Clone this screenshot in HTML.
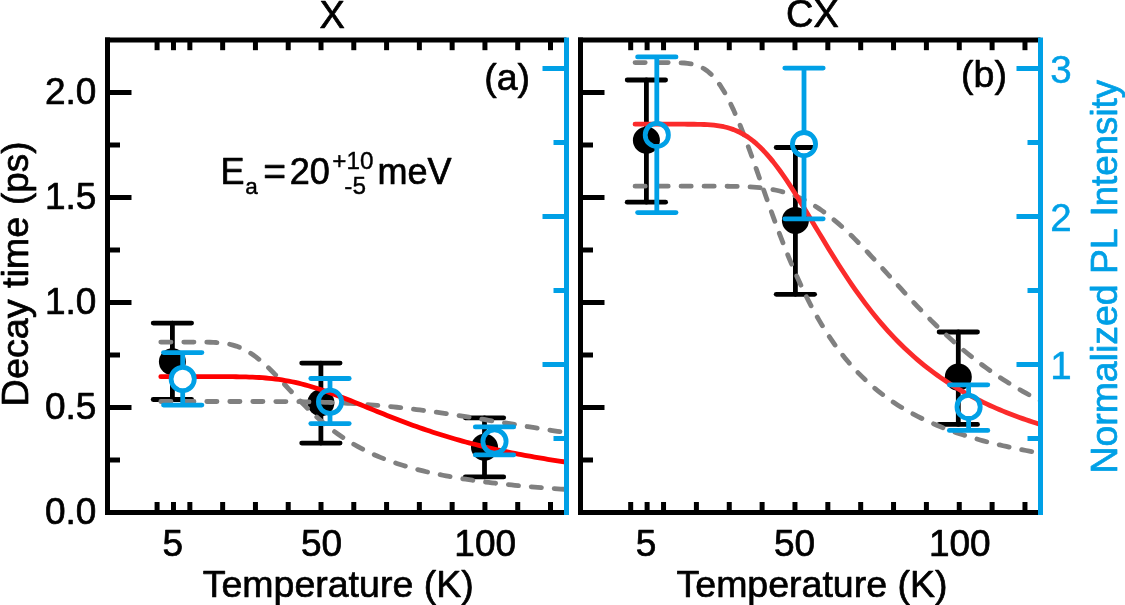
<!DOCTYPE html>
<html lang="en">
<head>
<meta charset="utf-8">
<title>Decay time and normalized PL intensity versus temperature</title>
<style>
html,body{margin:0;padding:0;background:#fff;}
body{width:1125px;height:605px;overflow:hidden;}
svg{display:block;}
</style>
</head>
<body>
<svg width="1125" height="605" viewBox="0 0 1125 605">
<rect x="0" y="0" width="1125" height="605" fill="#ffffff"/>
<defs>
<clipPath id="clipa"><rect x="107.5" y="40" width="456.5" height="472.5"/></clipPath>
<clipPath id="clipb"><rect x="580.5" y="40" width="457.5" height="472.5"/></clipPath>
</defs>
<g clip-path="url(#clipa)">
<g stroke="#000" stroke-width="4.8" stroke-linecap="round" fill="none">
<line x1="172.4" y1="323.1" x2="172.4" y2="399.5"/>
<line x1="153.2" y1="323.1" x2="191.6" y2="323.1"/>
<line x1="153.2" y1="399.5" x2="191.6" y2="399.5"/>
</g>
<circle cx="172.4" cy="361.8" r="13.5" fill="#000"/>
<g stroke="#000" stroke-width="4.8" stroke-linecap="round" fill="none">
<line x1="320.9" y1="363.1" x2="320.9" y2="443.1"/>
<line x1="301.7" y1="363.1" x2="340.1" y2="363.1"/>
<line x1="301.7" y1="443.1" x2="340.1" y2="443.1"/>
</g>
<circle cx="320.9" cy="402.7" r="13.5" fill="#000"/>
<g stroke="#000" stroke-width="4.8" stroke-linecap="round" fill="none">
<line x1="484.5" y1="417.8" x2="484.5" y2="476.9"/>
<line x1="465.3" y1="417.8" x2="503.7" y2="417.8"/>
<line x1="465.3" y1="476.9" x2="503.7" y2="476.9"/>
</g>
<circle cx="484.5" cy="447.3" r="13.5" fill="#000"/>
<path d="M160.78 342.11 L164.06 342.11 L167.33 342.11 L170.61 342.11 L173.89 342.11 L177.17 342.11 L180.45 342.11 L183.73 342.11 L187.01 342.11 L190.28 342.11 L193.56 342.11 L196.84 342.11 L200.12 342.12 L203.4 342.14 L206.68 342.17 L209.96 342.24 L213.23 342.35 L216.51 342.52 L219.79 342.78 L223.07 343.14 L226.35 343.63 L229.63 344.27 L232.91 345.09 L236.18 346.1 L239.46 347.33 L242.74 348.77 L246.02 350.45 L249.3 352.36 L252.58 354.51 L255.86 356.88 L259.13 359.46 L262.41 362.23 L265.69 365.18 L268.97 368.29 L272.25 371.52 L275.53 374.86 L278.81 378.28 L282.08 381.75 L285.36 385.26 L288.64 388.77 L291.92 392.28 L295.2 395.76 L298.48 399.19 L301.76 402.57 L305.03 405.88 L308.31 409.12 L311.59 412.27 L314.87 415.33 L318.15 418.29 L321.43 421.16 L324.71 423.93 L327.98 426.6 L331.26 429.17 L334.54 431.65 L337.82 434.02 L341.1 436.31 L344.38 438.5 L347.66 440.6 L350.93 442.62 L354.21 444.55 L357.49 446.4 L360.77 448.17 L364.05 449.87 L367.33 451.5 L370.61 453.06 L373.88 454.55 L377.16 455.99 L380.44 457.36 L383.72 458.68 L387 459.94 L390.28 461.15 L393.56 462.32 L396.83 463.43 L400.11 464.51 L403.39 465.54 L406.67 466.53 L409.95 467.48 L413.23 468.39 L416.51 469.27 L419.78 470.12 L423.06 470.93 L426.34 471.72 L429.62 472.47 L432.9 473.2 L436.18 473.91 L439.46 474.58 L442.73 475.24 L446.01 475.87 L449.29 476.48 L452.57 477.07 L455.85 477.64 L459.13 478.19 L462.41 478.72 L465.68 479.23 L468.96 479.73 L472.24 480.21 L475.52 480.68 L478.8 481.13 L482.08 481.57 L485.36 482 L488.63 482.41 L491.91 482.81 L495.19 483.2 L498.47 483.57 L501.75 483.94 L505.03 484.3 L508.31 484.64 L511.58 484.98 L514.86 485.3 L518.14 485.62 L521.42 485.93 L524.7 486.23 L527.98 486.52 L531.26 486.81 L534.53 487.08 L537.81 487.35 L541.09 487.62 L544.37 487.87 L547.65 488.12 L550.93 488.37 L554.21 488.6 L557.48 488.84 L560.76 489.06 L564.04 489.28 L567.32 489.5" fill="none" stroke="#808080" stroke-width="4.8" stroke-linecap="round" stroke-linejoin="round" stroke-dasharray="10.2 12.8"/>
<path d="M160.78 401.49 L164.06 401.49 L167.33 401.49 L170.61 401.49 L173.89 401.49 L177.17 401.49 L180.45 401.49 L183.73 401.49 L187.01 401.49 L190.28 401.49 L193.56 401.49 L196.84 401.49 L200.12 401.49 L203.4 401.49 L206.68 401.49 L209.96 401.49 L213.23 401.49 L216.51 401.49 L219.79 401.49 L223.07 401.49 L226.35 401.49 L229.63 401.49 L232.91 401.49 L236.18 401.49 L239.46 401.49 L242.74 401.5 L246.02 401.5 L249.3 401.5 L252.58 401.5 L255.86 401.5 L259.13 401.5 L262.41 401.51 L265.69 401.51 L268.97 401.52 L272.25 401.53 L275.53 401.54 L278.81 401.56 L282.08 401.57 L285.36 401.59 L288.64 401.62 L291.92 401.65 L295.2 401.68 L298.48 401.72 L301.76 401.76 L305.03 401.81 L308.31 401.87 L311.59 401.94 L314.87 402.01 L318.15 402.09 L321.43 402.18 L324.71 402.28 L327.98 402.39 L331.26 402.5 L334.54 402.63 L337.82 402.77 L341.1 402.92 L344.38 403.08 L347.66 403.25 L350.93 403.44 L354.21 403.63 L357.49 403.84 L360.77 404.06 L364.05 404.29 L367.33 404.53 L370.61 404.78 L373.88 405.05 L377.16 405.33 L380.44 405.62 L383.72 405.92 L387 406.24 L390.28 406.56 L393.56 406.9 L396.83 407.25 L400.11 407.61 L403.39 407.98 L406.67 408.36 L409.95 408.75 L413.23 409.15 L416.51 409.56 L419.78 409.98 L423.06 410.41 L426.34 410.84 L429.62 411.29 L432.9 411.74 L436.18 412.2 L439.46 412.67 L442.73 413.14 L446.01 413.62 L449.29 414.11 L452.57 414.6 L455.85 415.09 L459.13 415.6 L462.41 416.1 L465.68 416.61 L468.96 417.12 L472.24 417.64 L475.52 418.16 L478.8 418.68 L482.08 419.21 L485.36 419.73 L488.63 420.26 L491.91 420.79 L495.19 421.32 L498.47 421.86 L501.75 422.39 L505.03 422.92 L508.31 423.45 L511.58 423.99 L514.86 424.52 L518.14 425.05 L521.42 425.58 L524.7 426.11 L527.98 426.64 L531.26 427.17 L534.53 427.69 L537.81 428.22 L541.09 428.74 L544.37 429.26 L547.65 429.77 L550.93 430.29 L554.21 430.8 L557.48 431.31 L560.76 431.82 L564.04 432.32 L567.32 432.82" fill="none" stroke="#808080" stroke-width="4.8" stroke-linecap="round" stroke-linejoin="round" stroke-dasharray="10.2 12.8"/>
<path d="M160.78 376.63 L164.06 376.63 L167.33 376.63 L170.61 376.63 L173.89 376.63 L177.17 376.63 L180.45 376.63 L183.73 376.63 L187.01 376.63 L190.28 376.63 L193.56 376.63 L196.84 376.63 L200.12 376.63 L203.4 376.63 L206.68 376.63 L209.96 376.63 L213.23 376.63 L216.51 376.63 L219.79 376.64 L223.07 376.65 L226.35 376.66 L229.63 376.67 L232.91 376.7 L236.18 376.73 L239.46 376.78 L242.74 376.84 L246.02 376.92 L249.3 377.03 L252.58 377.16 L255.86 377.31 L259.13 377.5 L262.41 377.73 L265.69 377.99 L268.97 378.29 L272.25 378.64 L275.53 379.03 L278.81 379.48 L282.08 379.97 L285.36 380.51 L288.64 381.1 L291.92 381.75 L295.2 382.44 L298.48 383.19 L301.76 384 L305.03 384.85 L308.31 385.74 L311.59 386.69 L314.87 387.68 L318.15 388.71 L321.43 389.79 L324.71 390.9 L327.98 392.04 L331.26 393.22 L334.54 394.43 L337.82 395.66 L341.1 396.91 L344.38 398.19 L347.66 399.48 L350.93 400.79 L354.21 402.11 L357.49 403.43 L360.77 404.77 L364.05 406.11 L367.33 407.45 L370.61 408.78 L373.88 410.12 L377.16 411.45 L380.44 412.78 L383.72 414.1 L387 415.4 L390.28 416.7 L393.56 417.99 L396.83 419.26 L400.11 420.52 L403.39 421.76 L406.67 422.99 L409.95 424.2 L413.23 425.39 L416.51 426.57 L419.78 427.73 L423.06 428.87 L426.34 429.99 L429.62 431.09 L432.9 432.17 L436.18 433.24 L439.46 434.28 L442.73 435.31 L446.01 436.32 L449.29 437.3 L452.57 438.27 L455.85 439.22 L459.13 440.15 L462.41 441.07 L465.68 441.96 L468.96 442.84 L472.24 443.7 L475.52 444.54 L478.8 445.37 L482.08 446.18 L485.36 446.97 L488.63 447.74 L491.91 448.5 L495.19 449.25 L498.47 449.97 L501.75 450.69 L505.03 451.39 L508.31 452.07 L511.58 452.74 L514.86 453.4 L518.14 454.04 L521.42 454.67 L524.7 455.29 L527.98 455.89 L531.26 456.48 L534.53 457.06 L537.81 457.63 L541.09 458.18 L544.37 458.73 L547.65 459.26 L550.93 459.79 L554.21 460.3 L557.48 460.8 L560.76 461.29 L564.04 461.78 L567.32 462.25" fill="none" stroke="#ff0000" stroke-width="4.8" stroke-linecap="round" stroke-linejoin="round"/>
<g stroke="#00a0e6" stroke-width="4.8" fill="none">
<line x1="182.7" y1="352.6" x2="182.7" y2="367.4"/>
<line x1="182.7" y1="390.6" x2="182.7" y2="405.1"/>
<line stroke-linecap="round" x1="163.5" y1="352.6" x2="201.9" y2="352.6"/>
<line stroke-linecap="round" x1="163.5" y1="405.1" x2="201.9" y2="405.1"/>
<circle cx="182.7" cy="379" r="11.6" fill="#fff"/>
</g>
<g stroke="#00a0e6" stroke-width="4.8" fill="none">
<line x1="330" y1="378.5" x2="330" y2="390.2"/>
<line x1="330" y1="413.4" x2="330" y2="423.6"/>
<line stroke-linecap="round" x1="310.8" y1="378.5" x2="349.2" y2="378.5"/>
<line stroke-linecap="round" x1="310.8" y1="423.6" x2="349.2" y2="423.6"/>
<circle cx="330" cy="401.8" r="11.6" fill="none"/>
</g>
<g stroke="#00a0e6" stroke-width="4.8" fill="none">
<line x1="494.5" y1="426.9" x2="494.5" y2="429.9"/>
<line x1="494.5" y1="453.1" x2="494.5" y2="454.9"/>
<line stroke-linecap="round" x1="475.3" y1="426.9" x2="513.7" y2="426.9"/>
<line stroke-linecap="round" x1="475.3" y1="454.9" x2="513.7" y2="454.9"/>
<circle cx="494.5" cy="441.5" r="11.6" fill="none"/>
</g>
</g>
<g clip-path="url(#clipb)">
<g stroke="#000" stroke-width="4.8" stroke-linecap="round" fill="none">
<line x1="646.4" y1="80" x2="646.4" y2="202.2"/>
<line x1="627.2" y1="80" x2="665.6" y2="80"/>
<line x1="627.2" y1="202.2" x2="665.6" y2="202.2"/>
</g>
<circle cx="646.4" cy="140.3" r="13.5" fill="#000"/>
<g stroke="#000" stroke-width="4.8" stroke-linecap="round" fill="none">
<line x1="795.4" y1="147.5" x2="795.4" y2="294.3"/>
<line x1="776.2" y1="147.5" x2="814.6" y2="147.5"/>
<line x1="776.2" y1="294.3" x2="814.6" y2="294.3"/>
</g>
<circle cx="795.4" cy="220.4" r="13.5" fill="#000"/>
<g stroke="#000" stroke-width="4.8" stroke-linecap="round" fill="none">
<line x1="958.3" y1="332" x2="958.3" y2="424.4"/>
<line x1="939.1" y1="332" x2="977.5" y2="332"/>
<line x1="939.1" y1="424.4" x2="977.5" y2="424.4"/>
</g>
<circle cx="958.3" cy="377.1" r="13.5" fill="#000"/>
<path d="M635.04 62.6 L638.33 62.6 L641.61 62.6 L644.9 62.6 L648.19 62.6 L651.47 62.6 L654.76 62.6 L658.04 62.6 L661.33 62.6 L664.61 62.6 L667.9 62.6 L671.19 62.61 L674.47 62.64 L677.76 62.7 L681.04 62.81 L684.33 63.01 L687.61 63.33 L690.9 63.83 L694.19 64.56 L697.47 65.58 L700.76 66.96 L704.04 68.75 L707.33 71.01 L710.61 73.81 L713.9 77.17 L717.19 81.13 L720.47 85.71 L723.76 90.91 L727.04 96.73 L730.33 103.15 L733.61 110.12 L736.9 117.6 L740.19 125.54 L743.47 133.88 L746.76 142.56 L750.04 151.5 L753.33 160.64 L756.61 169.92 L759.9 179.27 L763.19 188.64 L766.47 197.97 L769.76 207.22 L773.04 216.34 L776.33 225.31 L779.61 234.09 L782.9 242.65 L786.19 250.99 L789.47 259.08 L792.76 266.92 L796.04 274.49 L799.33 281.8 L802.61 288.85 L805.9 295.63 L809.19 302.14 L812.47 308.4 L815.76 314.41 L819.04 320.17 L822.33 325.7 L825.61 330.99 L828.9 336.06 L832.19 340.92 L835.47 345.58 L838.76 350.03 L842.04 354.3 L845.33 358.39 L848.61 362.31 L851.9 366.07 L855.19 369.66 L858.47 373.11 L861.76 376.42 L865.04 379.59 L868.33 382.63 L871.61 385.55 L874.9 388.35 L878.19 391.04 L881.47 393.63 L884.76 396.11 L888.04 398.5 L891.33 400.8 L894.61 403.01 L897.9 405.14 L901.19 407.18 L904.47 409.16 L907.76 411.06 L911.04 412.89 L914.33 414.66 L917.61 416.36 L920.9 418.01 L924.19 419.6 L927.47 421.13 L930.76 422.61 L934.04 424.05 L937.33 425.43 L940.61 426.77 L943.9 428.07 L947.19 429.32 L950.47 430.54 L953.76 431.72 L957.04 432.86 L960.33 433.96 L963.61 435.04 L966.9 436.08 L970.19 437.09 L973.47 438.07 L976.76 439.02 L980.04 439.94 L983.33 440.84 L986.61 441.71 L989.9 442.56 L993.19 443.38 L996.47 444.18 L999.76 444.96 L1003.04 445.72 L1006.33 446.46 L1009.61 447.18 L1012.9 447.88 L1016.19 448.57 L1019.47 449.23 L1022.76 449.88 L1026.04 450.51 L1029.33 451.13 L1032.61 451.73 L1035.9 452.32 L1039.19 452.89 L1042.47 453.45" fill="none" stroke="#808080" stroke-width="4.8" stroke-linecap="round" stroke-linejoin="round" stroke-dasharray="10.2 12.8"/>
<path d="M635.04 186.16 L638.33 186.16 L641.61 186.16 L644.9 186.16 L648.19 186.16 L651.47 186.16 L654.76 186.16 L658.04 186.16 L661.33 186.16 L664.61 186.16 L667.9 186.16 L671.19 186.16 L674.47 186.16 L677.76 186.16 L681.04 186.16 L684.33 186.16 L687.61 186.16 L690.9 186.16 L694.19 186.16 L697.47 186.16 L700.76 186.16 L704.04 186.16 L707.33 186.16 L710.61 186.17 L713.9 186.17 L717.19 186.18 L720.47 186.19 L723.76 186.21 L727.04 186.24 L730.33 186.28 L733.61 186.33 L736.9 186.39 L740.19 186.48 L743.47 186.59 L746.76 186.74 L750.04 186.91 L753.33 187.13 L756.61 187.39 L759.9 187.7 L763.19 188.07 L766.47 188.5 L769.76 189.01 L773.04 189.59 L776.33 190.25 L779.61 191.01 L782.9 191.85 L786.19 192.8 L789.47 193.85 L792.76 195.01 L796.04 196.29 L799.33 197.68 L802.61 199.2 L805.9 200.83 L809.19 202.59 L812.47 204.48 L815.76 206.48 L819.04 208.62 L822.33 210.87 L825.61 213.24 L828.9 215.74 L832.19 218.34 L835.47 221.05 L838.76 223.87 L842.04 226.79 L845.33 229.8 L848.61 232.9 L851.9 236.09 L855.19 239.34 L858.47 242.67 L861.76 246.05 L865.04 249.49 L868.33 252.98 L871.61 256.51 L874.9 260.07 L878.19 263.66 L881.47 267.26 L884.76 270.88 L888.04 274.51 L891.33 278.14 L894.61 281.76 L897.9 285.38 L901.19 288.98 L904.47 292.56 L907.76 296.12 L911.04 299.65 L914.33 303.15 L917.61 306.62 L920.9 310.04 L924.19 313.43 L927.47 316.77 L930.76 320.07 L934.04 323.32 L937.33 326.52 L940.61 329.68 L943.9 332.78 L947.19 335.82 L950.47 338.82 L953.76 341.76 L957.04 344.65 L960.33 347.48 L963.61 350.26 L966.9 352.98 L970.19 355.65 L973.47 358.26 L976.76 360.82 L980.04 363.33 L983.33 365.78 L986.61 368.18 L989.9 370.53 L993.19 372.83 L996.47 375.08 L999.76 377.28 L1003.04 379.43 L1006.33 381.53 L1009.61 383.58 L1012.9 385.59 L1016.19 387.55 L1019.47 389.47 L1022.76 391.35 L1026.04 393.18 L1029.33 394.97 L1032.61 396.72 L1035.9 398.43 L1039.19 400.1 L1042.47 401.73" fill="none" stroke="#808080" stroke-width="4.8" stroke-linecap="round" stroke-linejoin="round" stroke-dasharray="10.2 12.8"/>
<path d="M635.04 124.21 L638.33 124.21 L641.61 124.21 L644.9 124.21 L648.19 124.21 L651.47 124.21 L654.76 124.21 L658.04 124.21 L661.33 124.21 L664.61 124.21 L667.9 124.21 L671.19 124.21 L674.47 124.21 L677.76 124.21 L681.04 124.21 L684.33 124.22 L687.61 124.23 L690.9 124.24 L694.19 124.27 L697.47 124.32 L700.76 124.39 L704.04 124.5 L707.33 124.67 L710.61 124.89 L713.9 125.19 L717.19 125.59 L720.47 126.09 L723.76 126.73 L727.04 127.52 L730.33 128.48 L733.61 129.62 L736.9 130.97 L740.19 132.53 L743.47 134.31 L746.76 136.34 L750.04 138.62 L753.33 141.15 L756.61 143.94 L759.9 146.98 L763.19 150.28 L766.47 153.82 L769.76 157.61 L773.04 161.63 L776.33 165.86 L779.61 170.29 L782.9 174.91 L786.19 179.71 L789.47 184.65 L792.76 189.73 L796.04 194.91 L799.33 200.2 L802.61 205.56 L805.9 210.98 L809.19 216.44 L812.47 221.92 L815.76 227.41 L819.04 232.89 L822.33 238.35 L825.61 243.77 L828.9 249.15 L832.19 254.47 L835.47 259.73 L838.76 264.92 L842.04 270.02 L845.33 275.04 L848.61 279.97 L851.9 284.8 L855.19 289.53 L858.47 294.16 L861.76 298.68 L865.04 303.1 L868.33 307.41 L871.61 311.62 L874.9 315.72 L878.19 319.71 L881.47 323.6 L884.76 327.38 L888.04 331.06 L891.33 334.64 L894.61 338.12 L897.9 341.5 L901.19 344.79 L904.47 347.98 L907.76 351.09 L911.04 354.1 L914.33 357.03 L917.61 359.87 L920.9 362.63 L924.19 365.31 L927.47 367.91 L930.76 370.44 L934.04 372.89 L937.33 375.28 L940.61 377.59 L943.9 379.84 L947.19 382.03 L950.47 384.15 L953.76 386.21 L957.04 388.22 L960.33 390.17 L963.61 392.06 L966.9 393.9 L970.19 395.69 L973.47 397.43 L976.76 399.13 L980.04 400.77 L983.33 402.38 L986.61 403.94 L989.9 405.45 L993.19 406.93 L996.47 408.37 L999.76 409.77 L1003.04 411.13 L1006.33 412.46 L1009.61 413.76 L1012.9 415.02 L1016.19 416.25 L1019.47 417.45 L1022.76 418.62 L1026.04 419.76 L1029.33 420.87 L1032.61 421.96 L1035.9 423.02 L1039.19 424.05 L1042.47 425.06" fill="none" stroke="#fb2b2b" stroke-width="4.8" stroke-linecap="round" stroke-linejoin="round"/>
<g stroke="#00a0e6" stroke-width="4.8" fill="none">
<line x1="656.8" y1="56.9" x2="656.8" y2="123.3"/>
<line x1="656.8" y1="146.5" x2="656.8" y2="212.6"/>
<line stroke-linecap="round" x1="637.6" y1="56.9" x2="676" y2="56.9"/>
<line stroke-linecap="round" x1="637.6" y1="212.6" x2="676" y2="212.6"/>
<circle cx="656.8" cy="134.9" r="11.6" fill="none"/>
</g>
<g stroke="#00a0e6" stroke-width="4.8" fill="none">
<line x1="804" y1="68.1" x2="804" y2="132.5"/>
<line x1="804" y1="155.7" x2="804" y2="218.8"/>
<line stroke-linecap="round" x1="784.8" y1="68.1" x2="823.2" y2="68.1"/>
<line stroke-linecap="round" x1="784.8" y1="218.8" x2="823.2" y2="218.8"/>
<circle cx="804" cy="144.1" r="11.6" fill="none"/>
</g>
<g stroke="#00a0e6" stroke-width="4.8" fill="none">
<line x1="968.6" y1="384.8" x2="968.6" y2="395.3"/>
<line x1="968.6" y1="418.5" x2="968.6" y2="430.4"/>
<line stroke-linecap="round" x1="949.4" y1="384.8" x2="987.8" y2="384.8"/>
<line stroke-linecap="round" x1="949.4" y1="430.4" x2="987.8" y2="430.4"/>
<circle cx="968.6" cy="406.9" r="11.6" fill="none"/>
</g>
</g>
<g stroke="#000" stroke-width="5" fill="none">
<line x1="105" y1="40" x2="566.5" y2="40"/>
<line x1="105" y1="512.5" x2="566.5" y2="512.5"/>
<line x1="107.5" y1="37.5" x2="107.5" y2="515"/>
<line x1="157.08" y1="40" x2="157.08" y2="50.2"/>
<line x1="157.08" y1="512.5" x2="157.08" y2="502"/>
<line x1="173.47" y1="40" x2="173.47" y2="50.2"/>
<line x1="173.47" y1="512.5" x2="173.47" y2="502"/>
<line x1="189.86" y1="40" x2="189.86" y2="50.2"/>
<line x1="189.86" y1="512.5" x2="189.86" y2="502"/>
<line x1="222.65" y1="40" x2="222.65" y2="50.2"/>
<line x1="222.65" y1="512.5" x2="222.65" y2="502"/>
<line x1="255.44" y1="40" x2="255.44" y2="50.2"/>
<line x1="255.44" y1="512.5" x2="255.44" y2="502"/>
<line x1="288.22" y1="40" x2="288.22" y2="50.2"/>
<line x1="288.22" y1="512.5" x2="288.22" y2="502"/>
<line x1="321.01" y1="40" x2="321.01" y2="50.2"/>
<line x1="321.01" y1="512.5" x2="321.01" y2="502"/>
<line x1="353.79" y1="40" x2="353.79" y2="50.2"/>
<line x1="353.79" y1="512.5" x2="353.79" y2="502"/>
<line x1="386.58" y1="40" x2="386.58" y2="50.2"/>
<line x1="386.58" y1="512.5" x2="386.58" y2="502"/>
<line x1="419.36" y1="40" x2="419.36" y2="50.2"/>
<line x1="419.36" y1="512.5" x2="419.36" y2="502"/>
<line x1="452.15" y1="40" x2="452.15" y2="50.2"/>
<line x1="452.15" y1="512.5" x2="452.15" y2="502"/>
<line x1="484.94" y1="40" x2="484.94" y2="50.2"/>
<line x1="484.94" y1="512.5" x2="484.94" y2="502"/>
<line x1="517.72" y1="40" x2="517.72" y2="50.2"/>
<line x1="517.72" y1="512.5" x2="517.72" y2="502"/>
<line x1="550.51" y1="40" x2="550.51" y2="50.2"/>
<line x1="550.51" y1="512.5" x2="550.51" y2="502"/>
<line x1="107.5" y1="512.5" x2="131.5" y2="512.5"/>
<line x1="107.5" y1="460" x2="120" y2="460"/>
<line x1="107.5" y1="407.5" x2="131.5" y2="407.5"/>
<line x1="107.5" y1="355" x2="120" y2="355"/>
<line x1="107.5" y1="302.5" x2="131.5" y2="302.5"/>
<line x1="107.5" y1="250" x2="120" y2="250"/>
<line x1="107.5" y1="197.5" x2="131.5" y2="197.5"/>
<line x1="107.5" y1="145" x2="120" y2="145"/>
<line x1="107.5" y1="92.5" x2="131.5" y2="92.5"/>
</g>
<g stroke="#00a0e6" stroke-width="5" fill="none">
<line x1="566.5" y1="37.5" x2="566.5" y2="515"/>
<line x1="566.5" y1="438.5" x2="553.5" y2="438.5"/>
<line x1="566.5" y1="364.5" x2="542.5" y2="364.5"/>
<line x1="566.5" y1="290.5" x2="553.5" y2="290.5"/>
<line x1="566.5" y1="216.5" x2="542.5" y2="216.5"/>
<line x1="566.5" y1="142.5" x2="553.5" y2="142.5"/>
<line x1="566.5" y1="68.5" x2="542.5" y2="68.5"/>
</g>
<g stroke="#000" stroke-width="5" fill="none">
<line x1="578" y1="40" x2="1040.5" y2="40"/>
<line x1="578" y1="512.5" x2="1040.5" y2="512.5"/>
<line x1="580.5" y1="37.5" x2="580.5" y2="515"/>
<line x1="630.69" y1="40" x2="630.69" y2="50.2"/>
<line x1="630.69" y1="512.5" x2="630.69" y2="502"/>
<line x1="647.11" y1="40" x2="647.11" y2="50.2"/>
<line x1="647.11" y1="512.5" x2="647.11" y2="502"/>
<line x1="663.54" y1="40" x2="663.54" y2="50.2"/>
<line x1="663.54" y1="512.5" x2="663.54" y2="502"/>
<line x1="696.4" y1="40" x2="696.4" y2="50.2"/>
<line x1="696.4" y1="512.5" x2="696.4" y2="502"/>
<line x1="729.26" y1="40" x2="729.26" y2="50.2"/>
<line x1="729.26" y1="512.5" x2="729.26" y2="502"/>
<line x1="762.11" y1="40" x2="762.11" y2="50.2"/>
<line x1="762.11" y1="512.5" x2="762.11" y2="502"/>
<line x1="794.97" y1="40" x2="794.97" y2="50.2"/>
<line x1="794.97" y1="512.5" x2="794.97" y2="502"/>
<line x1="827.83" y1="40" x2="827.83" y2="50.2"/>
<line x1="827.83" y1="512.5" x2="827.83" y2="502"/>
<line x1="860.69" y1="40" x2="860.69" y2="50.2"/>
<line x1="860.69" y1="512.5" x2="860.69" y2="502"/>
<line x1="893.54" y1="40" x2="893.54" y2="50.2"/>
<line x1="893.54" y1="512.5" x2="893.54" y2="502"/>
<line x1="926.4" y1="40" x2="926.4" y2="50.2"/>
<line x1="926.4" y1="512.5" x2="926.4" y2="502"/>
<line x1="959.26" y1="40" x2="959.26" y2="50.2"/>
<line x1="959.26" y1="512.5" x2="959.26" y2="502"/>
<line x1="992.11" y1="40" x2="992.11" y2="50.2"/>
<line x1="992.11" y1="512.5" x2="992.11" y2="502"/>
<line x1="1024.97" y1="40" x2="1024.97" y2="50.2"/>
<line x1="1024.97" y1="512.5" x2="1024.97" y2="502"/>
<line x1="580.5" y1="512.5" x2="604.5" y2="512.5"/>
<line x1="580.5" y1="460" x2="593" y2="460"/>
<line x1="580.5" y1="407.5" x2="604.5" y2="407.5"/>
<line x1="580.5" y1="355" x2="593" y2="355"/>
<line x1="580.5" y1="302.5" x2="604.5" y2="302.5"/>
<line x1="580.5" y1="250" x2="593" y2="250"/>
<line x1="580.5" y1="197.5" x2="604.5" y2="197.5"/>
<line x1="580.5" y1="145" x2="593" y2="145"/>
<line x1="580.5" y1="92.5" x2="604.5" y2="92.5"/>
</g>
<g stroke="#00a0e6" stroke-width="5" fill="none">
<line x1="1040.5" y1="37.5" x2="1040.5" y2="515"/>
<line x1="1040.5" y1="438.5" x2="1027.5" y2="438.5"/>
<line x1="1040.5" y1="364.5" x2="1016.5" y2="364.5"/>
<line x1="1040.5" y1="290.5" x2="1027.5" y2="290.5"/>
<line x1="1040.5" y1="216.5" x2="1016.5" y2="216.5"/>
<line x1="1040.5" y1="142.5" x2="1027.5" y2="142.5"/>
<line x1="1040.5" y1="68.5" x2="1016.5" y2="68.5"/>
</g>
<g font-family="'Liberation Sans', sans-serif" font-size="37" fill="#000" stroke="#000" stroke-width="0.7" stroke-linejoin="round">
<text x="332.3" y="27.6" text-anchor="middle" font-size="38">X</text>
<text x="812.5" y="27.4" text-anchor="middle" font-size="38">CX</text>
<text x="507.2" y="89.6" text-anchor="middle" font-size="37.5">(a)</text>
<text x="984" y="87.3" text-anchor="middle" font-size="37.5">(b)</text>
<text x="96.4" y="524" text-anchor="end">0.0</text>
<text x="96.4" y="419" text-anchor="end">0.5</text>
<text x="96.4" y="314" text-anchor="end">1.0</text>
<text x="96.4" y="209" text-anchor="end">1.5</text>
<text x="96.4" y="104" text-anchor="end">2.0</text>
<text x="172.75" y="556" text-anchor="middle">5</text>
<text x="321.5" y="556" text-anchor="middle">50</text>
<text x="485.2" y="556" text-anchor="middle">100</text>
<text x="646" y="556" text-anchor="middle">5</text>
<text x="794.6" y="556" text-anchor="middle">50</text>
<text x="959.8" y="556" text-anchor="middle">100</text>
<text x="338.2" y="596.8" text-anchor="middle" font-size="37.5">Temperature (K)</text>
<text x="812" y="596.8" text-anchor="middle" font-size="37.5">Temperature (K)</text>
<text transform="translate(27.8 406.4) rotate(-90)" font-size="37.8">Decay <tspan dx="0.7">time </tspan><tspan dx="1.2" font-size="36.8">(ps)</tspan></text>
<text font-size="36"><tspan x="220.5" y="184.2">E</tspan><tspan x="245.2" y="194.4" font-size="22.5" stroke-width="0.45">a</tspan><tspan x="263.3" y="185.2" font-size="39">=</tspan><tspan x="289.8" y="184.2">20</tspan><tspan x="332.2" y="168.8" font-size="24.3" stroke-width="0.4">+10</tspan><tspan x="344.3" y="193.8" font-size="24.3" stroke-width="0.4">-5</tspan><tspan x="377.5" y="184.2">meV</tspan></text>
</g>
<g font-family="'Liberation Sans', sans-serif" font-size="37" fill="#00a0e6" stroke="#00a0e6" stroke-width="0.7" stroke-linejoin="round">
<text x="1050.2" y="378.6" font-size="38.6" stroke-width="0.45">1</text>
<text x="1050.2" y="230.6" font-size="38.6" stroke-width="0.45">2</text>
<text x="1050.2" y="82.6" font-size="38.6" stroke-width="0.45">3</text>
<text transform="translate(1116.8 473.6) rotate(-90)" font-size="37.4">Normalized PL <tspan dx="2.9" font-size="36.7">Intensity</tspan></text>
</g>
</svg>
</body>
</html>
